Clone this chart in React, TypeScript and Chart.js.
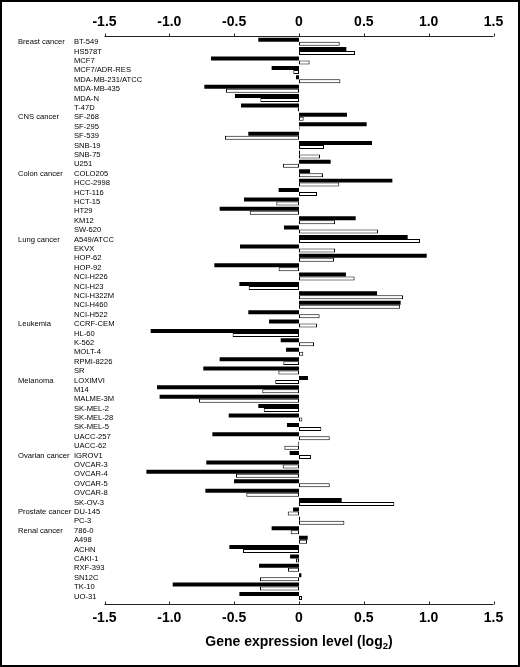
import { useEffect, useRef } from "react";
import { Chart, registerables } from "chart.js";

Chart.register(...registerables);

const cancerTypes = [
  "Breast cancer",
  "CNS cancer",
  "Colon cancer",
  "Lung cancer",
  "Leukemia",
  "Melanoma",
  "Ovarian cancer",
  "Prostate cancer",
  "Renal cancer",
];
const groupSizes = [8, 6, 7, 9, 6, 8, 6, 2, 8];

const cellLines = [
  "BT-549", "HS578T", "MCF7", "MCF7/ADR-RES", "MDA-MB-231/ATCC", "MDA-MB-435", "MDA-N", "T-47D",
  "SF-268", "SF-295", "SF-539", "SNB-19", "SNB-75", "U251",
  "COLO205", "HCC-2998", "HCT-116", "HCT-15", "HT29", "KM12", "SW-620",
  "A549/ATCC", "EKVX", "HOP-62", "HOP-92", "NCI-H226", "NCI-H23", "NCI-H322M", "NCI-H460", "NCI-H522",
  "CCRF-CEM", "HL-60", "K-562", "MOLT-4", "RPMI-8226", "SR",
  "LOXIMVI", "M14", "MALME-3M", "SK-MEL-2", "SK-MEL-28", "SK-MEL-5", "UACC-257", "UACC-62",
  "IGROV1", "OVCAR-3", "OVCAR-4", "OVCAR-5", "OVCAR-8", "SK-OV-3",
  "DU-145", "PC-3",
  "786-0", "A498", "ACHN", "CAKI-1", "RXF-393", "SN12C", "TK-10", "UO-31",
];

const seriesBlack = [
  -0.314, 0.365, -0.679, -0.211, -0.023, -0.73, -0.494, -0.447,
  0.37, 0.522, -0.391, 0.563, 0.008, 0.244,
  0.085, 0.72, -0.157, -0.424, -0.612, 0.437, -0.116,
  0.838, -0.455, 0.985, -0.653, 0.362, -0.46, 0.602, 0.784, -0.391,
  -0.231, -1.144, -0.141, -0.1, -0.612, -0.738,
  0.069, -1.095, -1.075, -0.314, -0.542, -0.093, -0.668, -0.005,
  -0.072, -0.715, -1.177, -0.501, -0.722, 0.329,
  -0.046, 0.008,
  -0.211, 0.067, -0.537, -0.069, -0.308, 0.018, -0.974, -0.46,
];

const seriesWhite = [
  0.314, 0.432, 0.082, -0.044, 0.319, -0.563, -0.298, -0.01,
  0.036, 0.005, -0.571, 0.193, 0.162, -0.123,
  0.185, 0.311, 0.139, -0.175, -0.38, 0.278, 0.609,
  0.933, 0.278, 0.27, -0.157, 0.429, -0.388, 0.802, 0.78, 0.159,
  0.139, -0.512, 0.116, 0.033, -0.121, -0.159,
  -0.183, -0.283, -0.771, -0.272, 0.026, 0.172, 0.237, -0.113,
  0.093, -0.126, -0.486, 0.237, -0.406, 0.735,
  -0.087, 0.35,
  -0.064, 0.062, -0.432, -0.023, -0.085, -0.301, -0.301, 0.023,
];

const xTicks = [-1.5, -1, -0.5, 0, 0.5, 1, 1.5];
const xMin = -1.5;
const xMax = 1.5;

const FONT = '"Liberation Sans", Arial, Helvetica, sans-serif';

export default function App() {
  const ref = useRef<HTMLCanvasElement>(null);

  useEffect(() => {
    document.body.style.margin = "0";
    const canvas = ref.current;
    if (!canvas) return;

    const groupStarts: number[] = [];
    let acc = 0;
    groupSizes.forEach((s) => {
      groupStarts.push(acc);
      acc += s;
    });

    const decor = {
      id: "decor",
      afterDraw(chart: any) {
        const ctx = chart.ctx as CanvasRenderingContext2D;
        const xs = chart.scales.x;
        const ys = chart.scales.y;
        const area = chart.chartArea;
        ctx.save();
        // frame
        ctx.strokeStyle = "#000";
        ctx.lineWidth = 2;
        ctx.strokeRect(1, 1, chart.width - 2, chart.height - 2);
        // axis lines
        const topY = Math.round(area.top - 1);
        const botY = Math.round(area.bottom + 3);
        ctx.lineWidth = 1;
        ctx.strokeStyle = "#222";
        [topY, botY].forEach((yy) => {
          ctx.beginPath();
          ctx.moveTo(xs.getPixelForValue(xMin), yy + 0.5);
          ctx.lineTo(xs.getPixelForValue(xMax), yy + 0.5);
          ctx.stroke();
          xTicks.forEach((t) => {
            const px = Math.round(xs.getPixelForValue(t)) + 0.5;
            ctx.beginPath();
            ctx.moveTo(px, yy + 0.5);
            ctx.lineTo(px, yy - 2.5);
            ctx.stroke();
          });
        });
        // row labels
        ctx.fillStyle = "#000";
        ctx.font = `7.6px ${FONT}`;
        ctx.textBaseline = "middle";
        ctx.textAlign = "left";
        cellLines.forEach((n, i) => ctx.fillText(n, 74, ys.getPixelForValue(i) + 0.5));
        cancerTypes.forEach((n, g) => ctx.fillText(n, 18, ys.getPixelForValue(groupStarts[g]) + 0.5));
        // axis title with subscript
        const main = "Gene expression level (log";
        const sub = "2";
        const close = ")";
        ctx.font = `bold 14px ${FONT}`;
        const w1 = ctx.measureText(main).width;
        const w3 = ctx.measureText(close).width;
        ctx.font = `bold 9.5px ${FONT}`;
        const w2 = ctx.measureText(sub).width;
        const cx = (xs.getPixelForValue(xMin) + xs.getPixelForValue(xMax)) / 2;
        let sx = cx - (w1 + w2 + w3) / 2;
        const ty = 642;
        ctx.font = `bold 14px ${FONT}`;
        ctx.fillText(main, sx, ty);
        sx += w1;
        ctx.font = `bold 9.5px ${FONT}`;
        ctx.fillText(sub, sx, ty + 4);
        sx += w2;
        ctx.font = `bold 14px ${FONT}`;
        ctx.fillText(close, sx, ty);
        ctx.restore();
      },
    };

    const tickFont = { family: FONT, size: 14, weight: "bold" as const };

    const chart = new Chart(canvas, {
      type: "bar",
      data: {
        labels: cellLines,
        datasets: [
          {
            data: seriesBlack,
            backgroundColor: "#000",
            borderWidth: 0,
            categoryPercentage: 0.85,
            barPercentage: 1,
          },
          {
            data: seriesWhite,
            backgroundColor: "#fff",
            borderColor: "#000",
            borderWidth: 1,
            borderSkipped: false,
            categoryPercentage: 0.85,
            barPercentage: 1,
          },
        ],
      },
      options: {
        indexAxis: "y",
        responsive: false,
        animation: false,
        devicePixelRatio: 1,
        layout: { padding: { left: 104.5, right: 26.5, top: 0, bottom: 0 } },
        plugins: { legend: { display: false }, tooltip: { enabled: false } },
        scales: {
          y: { type: "category", display: false, offset: true },
          x: {
            type: "linear",
            position: "bottom",
            min: xMin,
            max: xMax,
            afterBuildTicks: (s: any) => {
              s.ticks = xTicks.map((v) => ({ value: v }));
            },
            afterFit: (s: any) => {
              s.height = 66.3;
            },
            ticks: { font: tickFont, color: "#000", padding: 9, maxRotation: 0 },
            grid: { display: false, drawTicks: false },
            border: { display: false },
          },
          x2: {
            type: "linear",
            position: "top",
            axis: "x",
            min: xMin,
            max: xMax,
            afterBuildTicks: (s: any) => {
              s.ticks = xTicks.map((v) => ({ value: v }));
            },
            afterFit: (s: any) => {
              s.height = 37;
            },
            ticks: { font: tickFont, color: "#000", padding: 6, maxRotation: 0 },
            grid: { display: false, drawTicks: false },
            border: { display: false },
          },
        },
      },
      plugins: [decor],
    });

    return () => chart.destroy();
  }, []);

  return (
    <div style={{ width: 520, height: 667, background: "#fff" }}>
      <canvas ref={ref} width={520} height={667} style={{ display: "block" }} />
    </div>
  );
}
